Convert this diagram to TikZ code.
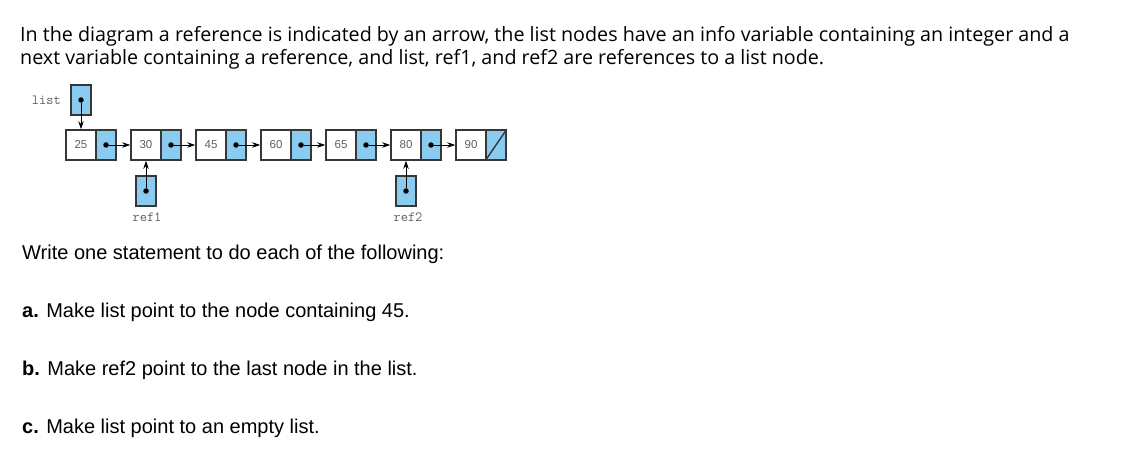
\documentclass[tikz,border=0pt]{standalone}
\usepackage{fontspec}
\setmainfont{Open Sans}
\newfontfamily\arialfont{Liberation Sans}
\usetikzlibrary{arrows.meta}
\definecolor{refblue}{RGB}{138,204,240}
\definecolor{boxline}{RGB}{55,55,55}
\definecolor{labelgray}{RGB}{95,95,95}
\begin{document}
\begin{tikzpicture}[x=1pt, y=-1pt, >={Stealth[length=8pt,width=5.5pt]},
  info box/.style={rectangle,draw=boxline,line width=1.6pt,fill=white,minimum width=30pt,minimum height=30pt,inner sep=0pt,font=\arialfont\fontsize{11.5}{12}\selectfont,text=labelgray},
  next box/.style={rectangle,draw=boxline,line width=1.6pt,fill=refblue,minimum width=20pt,minimum height=30pt,inner sep=0pt},
  var name/.style={font=\ttfamily\fontsize{14}{15}\selectfont,text=labelgray,inner sep=0pt},
  dot/.style={circle,fill=black,minimum size=5.5pt,inner sep=0pt},
  line text/.style={anchor=base west,inner sep=0pt,font=\fontsize{19.7}{23}\selectfont},
  task text/.style={anchor=base west,inner sep=0pt,font=\arialfont\fontsize{20}{22}\selectfont}]
\useasboundingbox[fill=white] (0,0) rectangle (1145,473);
% question text
\node[line text] (t1) at (20,41.7) {In the diagram a reference is indicated by an arrow, the list nodes have an info variable containing an integer and a};
\node[line text] (t2) at (20,65) {next variable containing a reference, and list, ref1, and ref2 are references to a list node.};
% the list
\node[info box] (d1) at (81,145) {25};
\node[next box] (p1) at (106,145) {};
\node[info box] (d2) at (146,145) {30};
\node[next box] (p2) at (171,145) {};
\node[info box] (d3) at (211,145) {45};
\node[next box] (p3) at (236,145) {};
\node[info box] (d4) at (276,145) {60};
\node[next box] (p4) at (301,145) {};
\node[info box] (d5) at (341,145) {65};
\node[next box] (p5) at (366,145) {};
\node[info box] (d6) at (406,145) {80};
\node[next box] (p6) at (431,145) {};
\node[info box] (d7) at (471,145) {90};
\node[next box] (p7) at (496,145) {};
\draw[boxline,line width=1.4pt] (p7.south west) -- (p7.north east);
% references
\node[next box] (list) at (81,100) {};
\node[var name,anchor=east] (listname) at (61,100) {list};
\node[next box] (ref1) at (146,191) {};
\node[var name] (ref1name) at (147,217) {ref1};
\node[next box] (ref2) at (406,191) {};
\node[var name] (ref2name) at (408,217) {ref2};
\foreach \p in {p1,p2,p3,p4,p5,p6,list,ref1,ref2}
  \node[dot] (\p dot) at (\p.center) {};
\begin{scope}[every path/.style={draw=black,line width=0.8pt}]
\draw[->] (p1dot) -- (d2);
\draw[->] (p2dot) -- (d3);
\draw[->] (p3dot) -- (d4);
\draw[->] (p4dot) -- (d5);
\draw[->] (p5dot) -- (d6);
\draw[->] (p6dot) -- (d7);
\draw[->] (listdot) -- (d1);
\draw[->] (ref1dot) -- (d2);
\draw[->] (ref2dot) -- (d6);
\end{scope}
% tasks
\node[task text] (w) at (22,259) {Write one statement to do each of the following:};
\node[task text] (ta) at (22,317) {\textbf{a.} Make list point to the node containing 45.};
\node[task text] (tb) at (22,375) {\textbf{b.} Make ref2 point to the last node in the list.};
\node[task text] (tc) at (22,433) {\textbf{c.} Make list point to an empty list.};
\end{tikzpicture}
\end{document}
